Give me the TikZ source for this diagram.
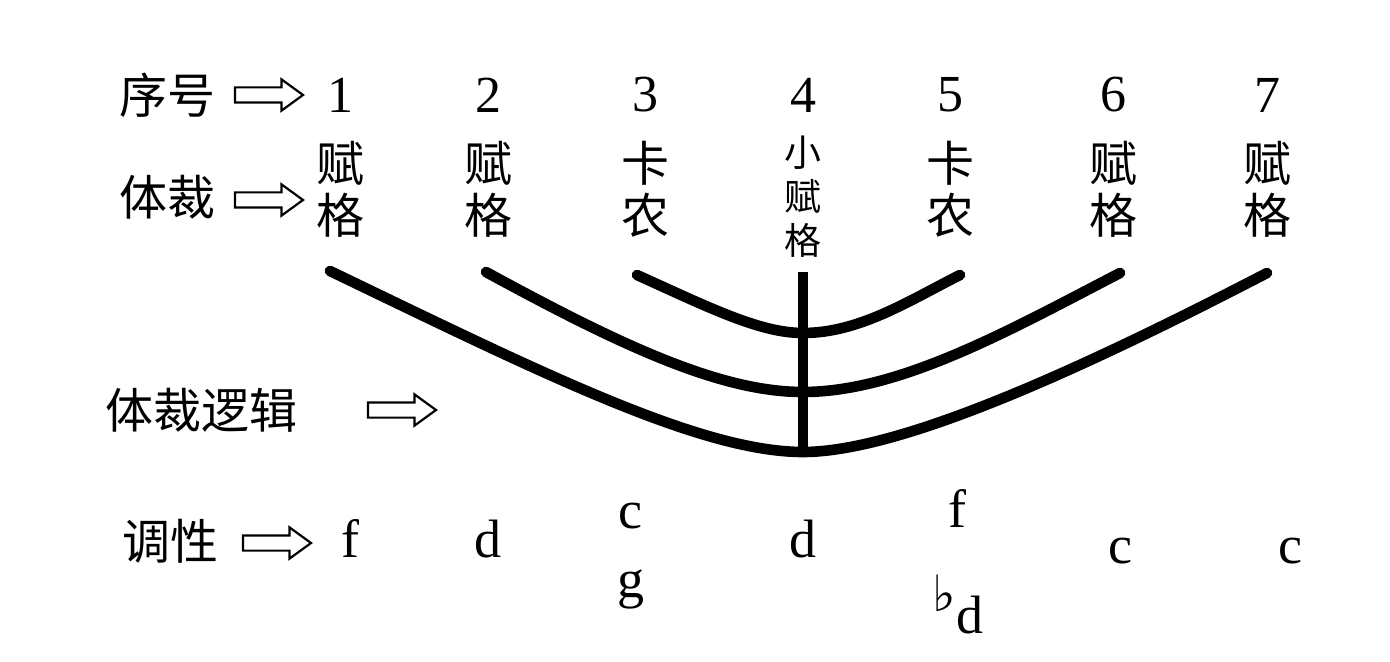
\documentclass[tikz,border=0pt]{standalone}
\usepackage{fontspec}
\setmainfont{Liberation Serif}
\newfontfamily\cjk{Noto Sans CJK SC}
\newfontfamily\symf{DejaVu Sans}
\usetikzlibrary{shapes.arrows}
\begin{document}
\begin{tikzpicture}[x=0.5pt,y=-0.5pt,
  cjkbig/.style={font=\cjk\fontsize{24}{24}\selectfont, inner sep=0},
  cjksmall/.style={font=\cjk\fontsize{18.5}{18.5}\selectfont, inner sep=0},
  num/.style={font=\fontsize{26}{26}\selectfont, inner sep=0},
  keyl/.style={font=\fontsize{27}{27}\selectfont, inner sep=0, anchor=base},
  hollow/.style={single arrow, draw, line width=1.1pt, inner sep=0, outer sep=0,
    minimum height=34pt, single arrow head extend=4pt, single arrow tip angle=72, anchor=west},
  branch/.style={line width=5.3pt, line cap=round, line join=round}
]
\useasboundingbox[fill=white] (0,0) rectangle (1390,662);

% row labels
\node[cjkbig] (lxh) at (167,95) {序号};
\node[cjkbig] (ltc) at (167,197) {体裁};
\node[cjkbig] (lluo) at (201,410) {体裁逻辑};
\node[cjkbig] (ldx) at (170,541) {调性};

% hollow arrows
\node[hollow] (a1) at (235,95) {\rule{0pt}{6.5pt}};
\node[hollow] (a2) at (235,200) {\rule{0pt}{6.5pt}};
\node[hollow] (a3) at (368,410) {\rule{0pt}{6.5pt}};
\node[hollow] (a4) at (243,543) {\rule{0pt}{6.5pt}};

% numbers
\node[num] (n1) at (340,95) {1};
\node[num] (n2) at (488,95) {2};
\node[num] (n3) at (645,95) {3};
\node[num] (n4) at (803,95) {4};
\node[num] (n5) at (950,95) {5};
\node[num] (n6) at (1113,95) {6};
\node[num] (n7) at (1267,95) {7};

% genres
\node[cjkbig] (g1a) at (340,163) {赋};
\node[cjkbig] (g1b) at (340,215) {格};
\node[cjkbig] (g2a) at (488,163) {赋};
\node[cjkbig] (g2b) at (488,215) {格};
\node[cjkbig] (g3a) at (645,163) {卡};
\node[cjkbig] (g3b) at (645,215) {农};
\node[cjksmall] (g4a) at (803,153) {小};
\node[cjksmall] (g4b) at (803,196) {赋};
\node[cjksmall] (g4c) at (803,240) {格};
\node[cjkbig] (g5a) at (950,163) {卡};
\node[cjkbig] (g5b) at (950,215) {农};
\node[cjkbig] (g6a) at (1113,163) {赋};
\node[cjkbig] (g6b) at (1113,215) {格};
\node[cjkbig] (g7a) at (1267,163) {赋};
\node[cjkbig] (g7b) at (1267,215) {格};

% tree
\coordinate (o1) at (330,271);
\coordinate (o2) at (803,452);
\coordinate (o3) at (1267,273);
\coordinate (m1) at (486,272);
\coordinate (m2) at (803,392);
\coordinate (m3) at (1120,273);
\coordinate (i1) at (637,275);
\coordinate (i2) at (803,333);
\coordinate (i3) at (960,275);
\coordinate (vt) at (803,272);
\coordinate (vb) at (803,454);

\draw[branch] (o1) .. controls (540,372) and (700,452) .. (o2)
  .. controls (900,452) and (1080,370) .. (o3);
\draw[branch] (m1) .. controls (620,345) and (720,392) .. (m2)
  .. controls (900,392) and (1010,330) .. (m3);
\draw[branch] (i1) .. controls (710,308) and (760,333) .. (i2)
  .. controls (860,333) and (910,300) .. (i3);
\draw[branch, line cap=butt] (vt) -- (vb);

% keys
\node[keyl] (k1) at (350,557) {f};
\node[keyl] (k2) at (488,557) {d};
\node[keyl] (k3a) at (630,528) {c};
\node[keyl] (k3b) at (631,597) {g};
\node[keyl] (k4) at (803,557) {d};
\node[keyl] (k5a) at (957,527) {f};
\node[keyl] (k5b) at (958,633) {{\raisebox{11pt}{\symf\fontsize{25}{25}\selectfont ♭}}d};
\node[keyl] (k6) at (1120,563) {c};
\node[keyl] (k7) at (1290,563) {c};
\end{tikzpicture}
\end{document}
